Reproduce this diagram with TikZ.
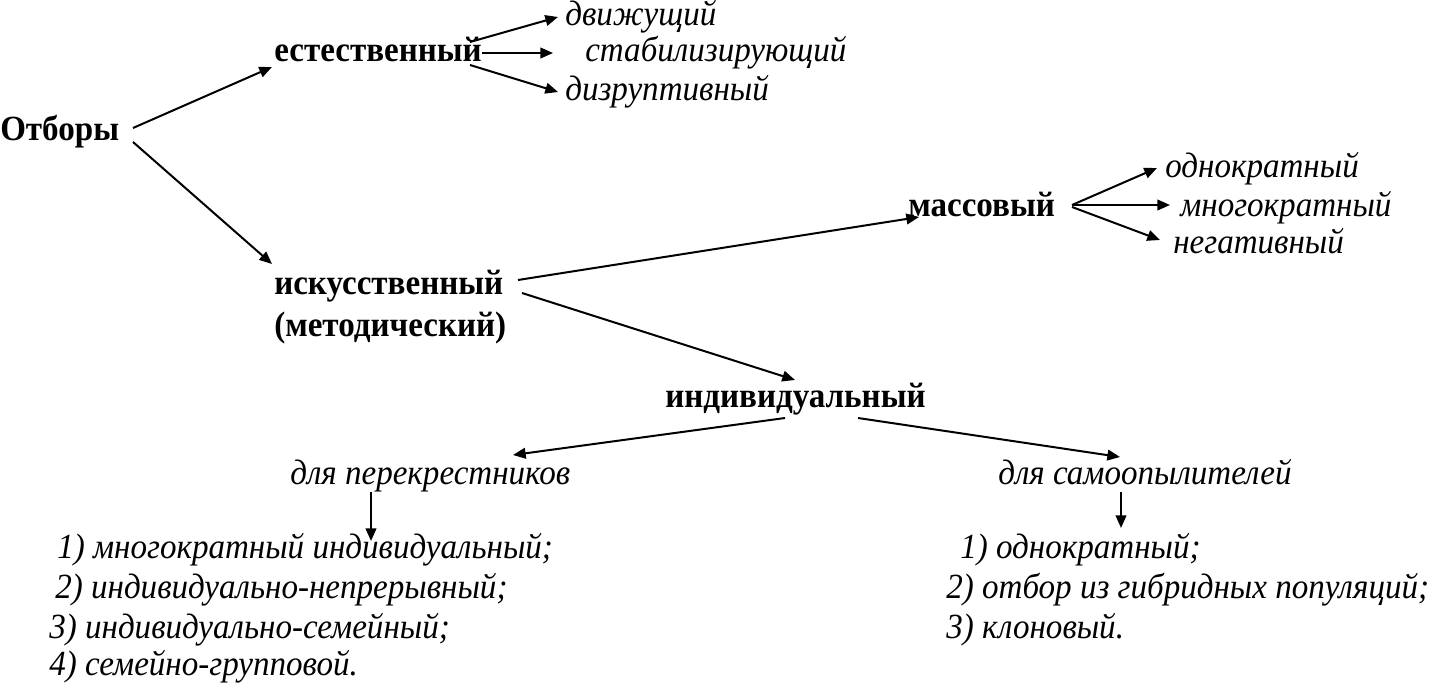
\documentclass[tikz,border=0pt]{standalone}
\usepackage{fontspec}
\setmainfont{Liberation Serif}
\usetikzlibrary{arrows.meta}
\newcommand\talltxt[1]{\scalebox{1}[1.07]{#1}}
\tikzset{
  bf/.style={font=\fontsize{24.8pt}{31pt}\selectfont\bfseries, inner sep=0pt, anchor=base west},
  it/.style={font=\fontsize{24.8pt}{31pt}\selectfont\itshape, inner sep=0pt, anchor=base west},
  arr/.style={line width=1.5pt, -{Triangle[length=9.5pt,width=8pt]}},
}
\begin{document}
\begin{tikzpicture}[x=0.75pt,y=-0.75pt]
\useasboundingbox (0,0) rectangle (1437,688);
% nodes
\node[bf] (ot) at (0,141) {\talltxt{Отборы}};
\node[bf] (est) at (274,62) {\talltxt{естественный}};
\node[it] (dv) at (565,26) {\talltxt{движущий}};
\node[it] (st) at (585,62) {\talltxt{стабилизирующий}};
\node[it] (diz) at (565,101) {\talltxt{дизруптивный}};
\node[bf, anchor=west, align=left] (isk) at (274,307) {\talltxt{искусственный}\\\talltxt{(методический)}};
\node[bf] (mas) at (908,216) {\talltxt{массовый}};
\node[it] (odn) at (1165,177) {\talltxt{однократный}};
\node[it] (mng) at (1180,216) {\talltxt{многократный}};
\node[it] (neg) at (1173,253) {\talltxt{негативный}};
\node[bf] (ind) at (665,407) {\talltxt{индивидуальный}};
\node[it] (per) at (290,484) {\talltxt{для перекрестников}};
\node[it] (sam) at (998,484) {\talltxt{для самоопылителей}};
\node[it] (perl1) at (57,558) {\talltxt{1) многократный индивидуальный;}};
\node[it] (perl2) at (55,598) {\talltxt{2) индивидуально-непрерывный;}};
\node[it] (perl3) at (49,638) {\talltxt{3) индивидуально-семейный;}};
\node[it] (perl4) at (49,675) {\talltxt{4) семейно-групповой.}};
\node[it] (saml1) at (960,558) {\talltxt{1) однократный;}};
\node[it] (saml2) at (946,598) {\talltxt{2) отбор из гибридных популяций;}};
\node[it] (saml3) at (946,638) {\talltxt{3) клоновый.}};
% connectors
\draw[arr] ([shift={(133,-13)}]ot.base west) -- ([shift={(-2,5)}]est.base west);
\draw[arr] ([shift={(133,1)}]ot.base west) -- ([shift={(-2,-43)}]isk.west);
\draw[arr] ([shift={(196,-20)}]est.base west) -- ([shift={(-7,-9)}]dv.base west);
\draw[arr] ([shift={(208,-9)}]est.base west) -- ([shift={(-32,-9)}]st.base west);
\draw[arr] ([shift={(196,3)}]est.base west) -- ([shift={(-7,-9)}]diz.base west);
\draw[arr] ([shift={(244,-27)}]isk.west) -- ([shift={(11,1)}]mas.base west);
\draw[arr] ([shift={(248,-14)}]isk.west) -- ([shift={(130,-27)}]ind.base west);
\draw[arr] ([shift={(164,-11)}]mas.base west) -- ([shift={(-8,-9)}]odn.base west);
\draw[arr] ([shift={(164,-11)}]mas.base west) -- ([shift={(-10,-11)}]mng.base west);
\draw[arr] ([shift={(164,-9)}]mas.base west) -- ([shift={(-13,-13)}]neg.base west);
\draw[arr] ([shift={(120,11)}]ind.base west) -- ([shift={(223,-29)}]per.base west);
\draw[arr] ([shift={(193,11)}]ind.base west) -- ([shift={(122,-27)}]sam.base west);
\draw[arr] ([shift={(81,8)}]per.base west) -- ([shift={(314,-17)}]perl1.base west);
\draw[arr] ([shift={(123,8)}]sam.base west) -- ([shift={(161,-30)}]saml1.base west);
\end{tikzpicture}
\end{document}
